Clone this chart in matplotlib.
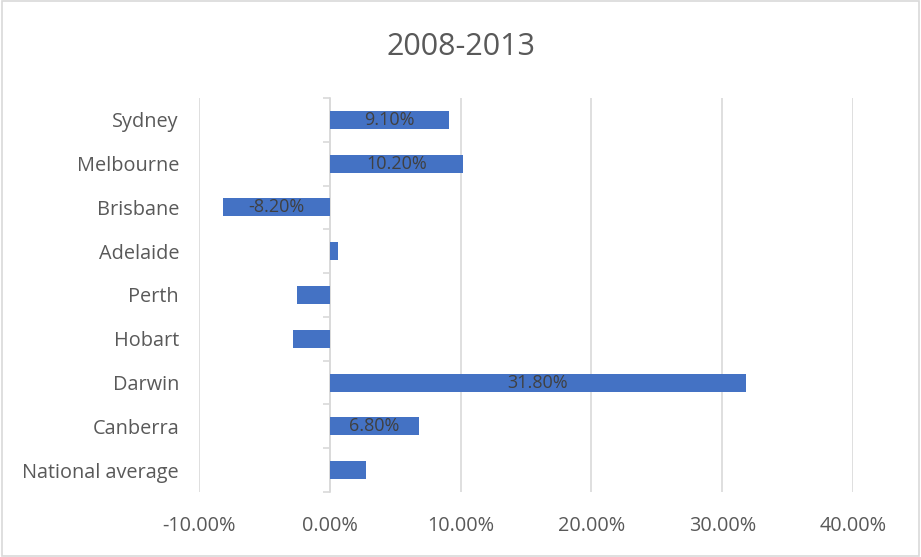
import numpy as np
import matplotlib.pyplot as plt
from matplotlib.ticker import FuncFormatter

plt.rcParams['font.family'] = ['Open Sans', 'DejaVu Sans']

cities = ['Sydney', 'Melbourne', 'Brisbane', 'Adelaide', 'Perth', 'Hobart',
          'Darwin', 'Canberra', 'National average']
growth = [9.1, 10.2, -8.2, 0.6, -2.5, -2.8, 31.8, 6.8, 2.8]
labelled = ['Sydney', 'Melbourne', 'Brisbane', 'Darwin', 'Canberra']

fig = plt.figure(figsize=(9.21, 5.57), dpi=100)
ax = fig.add_axes([199 / 921, 1 - 492 / 557, 654 / 921, 394 / 557])

y = np.arange(len(cities))
bars = ax.barh(y, growth, height=0.41, color='#4472C4', zorder=3)
ax.set_ylim(len(cities) - 0.5, -0.5)
ax.set_xlim(-10, 40)

for b, city, v in zip(bars, cities, growth):
    if city in labelled:
        ax.text(b.get_x() + b.get_width() / 2, b.get_y() + b.get_height() / 2,
                '%.2f%%' % v, ha='center', va='center', fontsize=13,
                color='#404040', zorder=4)

ax.set_xticks(np.arange(-10, 41, 10))
ax.xaxis.set_major_formatter(FuncFormatter(lambda v, p: '%.2f%%' % v))
ax.grid(axis='x', color='#d9d9d9', linewidth=1.2, zorder=0)
ax.tick_params(axis='x', length=0, pad=17, labelsize=14.3, labelcolor='#595959')

ax.set_yticks(y)
ax.set_yticklabels(cities)
ax.tick_params(axis='y', length=0, pad=14.4, labelsize=14.3, labelcolor='#595959')

for s in ax.spines.values():
    s.set_visible(False)

# category axis on the zero line with boundary ticks
sec = ax.secondary_yaxis(0.2)
sec.set_yticks(np.arange(-0.5, len(cities), 1))
sec.set_yticklabels([])
sec.tick_params(length=5, width=1.2, color='#d9d9d9')
sec.spines['left'].set_color('#d9d9d9')
sec.spines['left'].set_linewidth(1.2)

fig.text(0.5, 1 - 47 / 557, '2008-2013', ha='center', va='center',
         fontsize=22, color='#595959')

# outer border
fig.add_artist(plt.Rectangle((0.002, 0.002), 0.996, 0.996, transform=fig.transFigure,
                             fill=False, edgecolor='#d9d9d9', linewidth=1.2))

fig.savefig('out.png', dpi=100)
